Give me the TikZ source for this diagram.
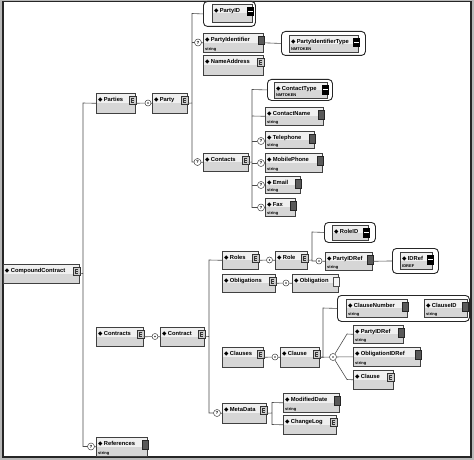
\documentclass[tikz,border=0pt]{standalone}
\usepackage{fontspec}
\setmainfont{Liberation Sans}
\newfontfamily\symf{DejaVu Sans}
\newcommand\elemdia{{\symf ◆}}

\tikzset{
  wire/.style={draw=black!70, line width=0.6pt},
  elem/.style 2 args={rectangle, draw=black!75, line width=0.6pt, fill=gray!12,
    inner sep=0pt, anchor=north west, minimum width=#1, minimum height=#2,
    path picture={\fill[gray!32] (path picture bounding box.west) rectangle (path picture bounding box.south east);}},
  grp/.style 2 args={rectangle, draw=black!85, line width=0.9pt, rounded corners=4pt, fill=white,
    inner sep=0pt, anchor=north west, minimum width=#1, minimum height=#2},
  ttl/.style={label={[font=\fontsize{5.8}{7}\selectfont\bfseries, inner sep=0pt, anchor=base west,
    xshift=1.8pt, yshift=-8.6pt]north west:{\elemdia\hspace{1.4pt}#1}}},
  typ/.style={label={[font=\fontsize{4}{4.5}\selectfont\bfseries, inner sep=0pt, anchor=base west,
    xshift=2pt, yshift=1.8pt]south west:#1}},
  icx/.style={label={[draw=black!80, fill=gray!40, line width=0.4pt, minimum width=6.5pt, minimum height=8pt,
    inner sep=0pt, anchor=north east, xshift=0.5pt, yshift=-3pt,
    path picture={\draw[line width=0.45pt] ([shift={(1.6pt,2.4pt)}]path picture bounding box.center) -- ++(-3.2pt,0) -- ++(0,-4.8pt) -- ++(3.2pt,0)
      ([shift={(-1.6pt,0pt)}]path picture bounding box.center) -- ++(2.6pt,0);}]north east:}},
  istr/.style={label={[draw=black!85, fill=black!65, line width=0.4pt, minimum width=6pt, minimum height=8.5pt,
    inner sep=0pt, anchor=north east, xshift=0.5pt, yshift=-3pt]north east:}},
  iatt/.style={label={[draw=black, fill=black, line width=0.4pt, minimum width=6.5pt, minimum height=8.5pt,
    inner sep=0pt, anchor=north east, xshift=1pt, yshift=-3pt,
    path picture={\draw[white, line width=1pt] ([xshift=0.8pt]path picture bounding box.west) -- ([xshift=-0.8pt]path picture bounding box.east);}]north east:}},
  iemp/.style={label={[draw=black!70, fill=gray!8, line width=0.4pt, minimum width=6pt, minimum height=8.5pt,
    inner sep=0pt, anchor=north east, xshift=0.5pt, yshift=-3pt]north east:}},
  seqc/.style={circle, draw=black!75, fill=white, line width=0.5pt, inner sep=0pt, minimum size=6pt,
    path picture={\fill[black!80] (path picture bounding box.center) circle (0.9pt);}},
  optc/.style={circle, draw=black!75, fill=white, line width=0.5pt, inner sep=0pt, minimum size=7pt,
    font=\fontsize{4.5}{4.5}\selectfont\bfseries}
}

\begin{document}
\begin{tikzpicture}[x=1pt, y=-1pt]
  \useasboundingbox (0,0) rectangle (474,460);
  % frame
  \fill[gray!55] (0,0) rectangle (474,460);
  \fill[white] (3,1.5) rectangle (471,457);
  \draw[black!85, line width=1.2pt] (3,1.5) rectangle (471,457);

  % root and first level
  \node[elem={76pt}{19pt}, ttl=CompoundContract, icx] (cc) at (3,264) {};
  \node[elem={39pt}{20pt}, ttl=Parties, icx] (parties) at (96,93) {};
  \node[elem={47pt}{19pt}, ttl=Contracts, icx] (contracts) at (96,327) {};
  \node[elem={51pt}{19pt}, ttl=References, typ=string, istr] (refs) at (96,437) {};
  \node[optc] (refq) at (91,446.5) {?};

  \draw[wire] (cc.east) -- (83,273.5);
  \draw[wire] (parties.west) -- (83,103) -- (83,446.5) -- (refq);
  \draw[wire] (refq) -- (refs.west);

  % party
  \node[seqc] (pq) at (148,103) {};
  \node[elem={35pt}{20pt}, ttl=Party, icx] (party) at (152,93) {};
  \draw[wire] (parties.east) -- (pq) -- (party.west);

  \node[grp={52pt}{25pt}] (pidgrp) at (203,1) {};
  \node[elem={40pt}{18pt}, ttl=PartyID, iatt] (pid) at (212,4) {};
  \node[optc] (piq) at (198,42.5) {?};
  \node[elem={60pt}{19pt}, ttl=PartyIdentifier, typ=string, istr] (pident) at (203,33) {};
  \node[grp={84pt}{24pt}] (ptgrp) at (281,31) {};
  \node[elem={69pt}{17pt}, ttl=PartyIdentifierType, typ=NMTOKEN, iatt] (ptype) at (289,35) {};
  \node[elem={60pt}{20pt}, ttl=NameAddress, icx] (nameaddr) at (203,55) {};
  \node[optc] (ctq) at (197.5,162) {?};
  \node[elem={45pt}{18pt}, ttl=Contacts, icx] (contacts) at (203,153) {};

  \draw[wire] (party.east) -- (192,103);
  \draw[wire] (pidgrp.west) -- (192,13.5) -- (192,162) -- (ctq) -- (contacts.west);
  \draw[wire] (192,42.5) -- (piq) -- (pident.west);
  \draw[wire] (pident.east) -- (ptgrp.west);

  % contacts
  \node[grp={65pt}{21pt}] (ctgrp) at (267,79) {};
  \node[elem={53pt}{16pt}, ttl=ContactType, typ=NMTOKEN, iatt] (ctype) at (274,82) {};
  \node[elem={58pt}{18pt}, ttl=ContactName, typ=string, istr] (cname) at (265,107) {};
  \node[elem={49pt}{17pt}, ttl=Telephone, typ=string, istr] (tel) at (265,131) {};
  \node[elem={57pt}{19pt}, ttl=MobilePhone, typ=string, istr] (mobile) at (265,153) {};
  \node[elem={35pt}{17pt}, ttl=Email, typ=string, istr] (email) at (265,176) {};
  \node[elem={30pt}{18pt}, ttl=Fax, typ=string, istr] (fax) at (265,198) {};
  \node[optc] (telq) at (261,141) {?};
  \node[optc] (mobq) at (261,163) {?};
  \node[optc] (emq) at (261,185) {?};
  \node[optc] (faxq) at (261,207.5) {?};

  \draw[wire] (contacts.east) -- (252,162);
  \draw[wire] (ctgrp.west) -- (252,89.5) -- (252,207.5) -- (faxq);
  \draw[wire] (252,116) -- (cname.west);
  \draw[wire] (252,141) -- (telq);
  \draw[wire] (252,163) -- (mobq);
  \draw[wire] (252,185) -- (emq);

  % contract
  \node[seqc] (cq) at (155,336.5) {};
  \node[elem={44pt}{19pt}, ttl=Contract, icx] (contract) at (160,327) {};
  \draw[wire] (contracts.east) -- (cq) -- (contract.west);

  \node[elem={36pt}{18pt}, ttl=Roles, icx] (roles) at (222,251) {};
  \node[elem={53pt}{18pt}, ttl=Obligations, icx] (obls) at (222,274) {};
  \node[elem={41pt}{20pt}, ttl=Clauses, icx] (clauses) at (222,347) {};
  \node[optc] (metaq) at (217,413) {?};
  \node[elem={44pt}{20pt}, ttl=MetaData, icx] (meta) at (222,403) {};

  \draw[wire] (contract.east) -- (209,336.5);
  \draw[wire] (roles.west) -- (209,260) -- (209,413) -- (metaq);

  % roles
  \node[seqc] (rq) at (269.5,260) {};
  \node[elem={32pt}{18pt}, ttl=Role, icx] (role) at (275,251) {};
  \node[grp={51pt}{20pt}] (rigrp) at (324,222) {};
  \node[elem={36pt}{15pt}, ttl=RoleID, iatt] (roleid) at (332,225) {};
  \node[seqc] (prq) at (319,261) {};
  \node[elem={47pt}{18pt}, ttl=PartyIDRef, typ=string, istr] (pidref) at (325,252) {};
  \node[grp={46pt}{25pt}] (idgrp) at (392,248) {};
  \node[elem={32pt}{17pt}, ttl=IDRef, typ=IDREF, iatt] (idref) at (400,252) {};

  \draw[wire] (roles.east) -- (rq) -- (role.west);
  \draw[wire] (role.east) -- (312,260);
  \draw[wire] (rigrp.west) -- (312,232) -- (312,261) -- (prq) -- (pidref.west);
  \draw[wire] (pidref.east) -- (idgrp.west);

  % obligations
  \node[seqc] (oq) at (286,283) {};
  \node[elem={46pt}{18pt}, ttl=Obligation, iemp] (obl) at (292,274) {};
  \draw[wire] (obls.east) -- (oq) -- (obl.west);

  % clauses
  \node[seqc] (clq) at (275,357) {};
  \node[elem={39pt}{20pt}, ttl=Clause, icx] (clause) at (280,347) {};
  \node[grp={132pt}{26pt}] (clgrp) at (337,295) {};
  \node[elem={61pt}{18pt}, ttl=ClauseNumber, typ=string, istr] (clnum) at (346,299) {};
  \node[elem={43pt}{18pt}, ttl=ClauseID, typ=string, istr] (clid) at (424,299) {};
  \node[seqc, minimum size=7pt] (chq) at (333,357) {};
  \node[elem={50pt}{18pt}, ttl=PartyIDRef, typ=string, istr] (pidref2) at (353,325) {};
  \node[elem={67pt}{19pt}, ttl=ObligationIDRef, typ=string, istr] (oblref) at (353,347) {};
  \node[elem={40pt}{19pt}, ttl=Clause, icx] (clause2) at (353,370) {};

  \draw[wire] (clauses.east) -- (clq) -- (clause.west);
  \draw[wire] (clause.east) -- (323,357) -- (323,308) -- (clgrp.west);
  \draw[wire] (clause.east) -- (chq);
  \draw[wire] (chq) -- (347,334) -- (pidref2.west);
  \draw[wire] (chq) -- (oblref.west);
  \draw[wire] (chq) -- (347,379.5) -- (clause2.west);

  % meta data
  \node[elem={56pt}{19pt}, ttl=ModifiedDate, typ=string, istr] (mod) at (283,393) {};
  \node[elem={53pt}{19pt}, ttl=ChangeLog, icx] (clog) at (283,415) {};
  \draw[wire] (metaq) -- (meta.west);
  \draw[wire] (meta.east) -- (272,413);
  \draw[wire] (mod.west) -- (272,402.5) -- (272,424.5) -- (clog.west);
\end{tikzpicture}
\end{document}
